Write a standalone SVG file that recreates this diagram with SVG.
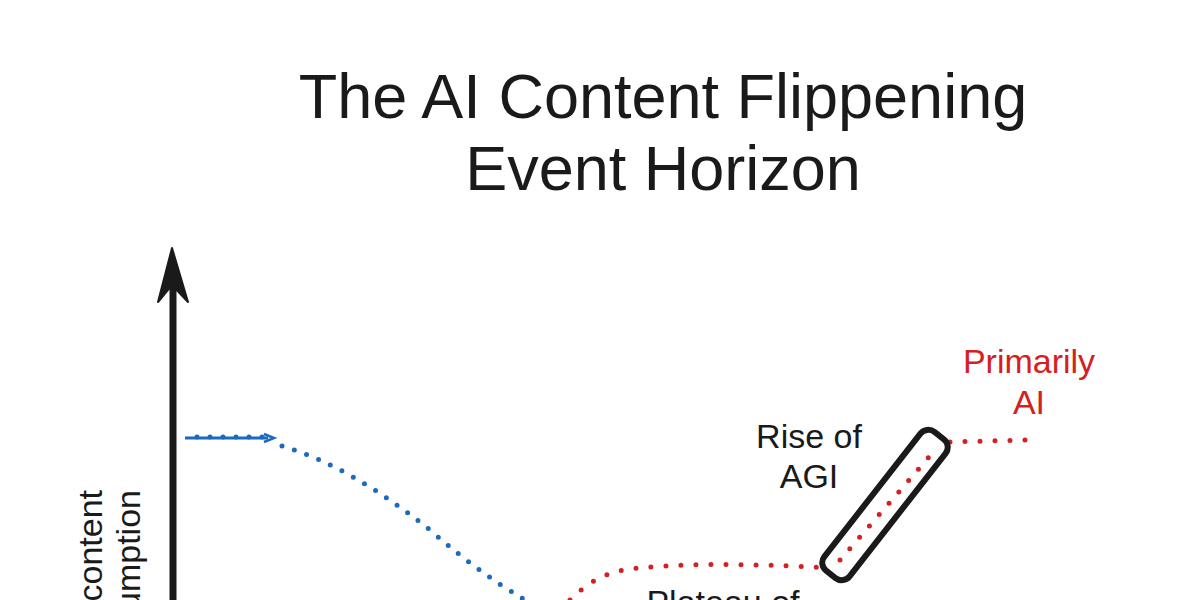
<svg xmlns="http://www.w3.org/2000/svg" width="1200" height="600" viewBox="0 0 1200 600">
<style>
text{font-family:"Liberation Sans",Arial,sans-serif;fill:#1a1a1a}
.t{font-size:63px;text-anchor:middle}
.l{font-size:34px;text-anchor:middle}
.r{fill:#d42020}
.bd{fill:none;stroke:#1a6bbf;stroke-width:5;stroke-linecap:round;stroke-dasharray:0 13}
.rd{fill:none;stroke:#d42020;stroke-width:5;stroke-linecap:round;stroke-dasharray:0 15}
</style>
<rect width="1200" height="600" fill="#fff"/>
<g id="title"><text class="t" x="663" y="118">The AI Content Flippening</text><text class="t" x="663" y="190">Event Horizon</text></g>
<g id="axis">
<line x1="173" y1="265" x2="173" y2="600" stroke="#1a1a1a" stroke-width="7"/>
<path d="M172 248 L158 302 L172 285 L188 302 Z" fill="#1a1a1a" stroke="#1a1a1a" stroke-width="2" stroke-linejoin="round"/>
<text class="l" x="102" y="490" style="text-anchor:end" transform="rotate(-90 102 490)">content</text>
<text class="l" x="140" y="490" style="text-anchor:end" transform="rotate(-90 140 490)">consumption</text>
</g>
<g id="connectors">
<line x1="185" y1="438" x2="268" y2="438" stroke="#1a6bbf" stroke-width="3"/>
<path d="M264 434 L274 438 L264 442" fill="none" stroke="#1a6bbf" stroke-width="2.5"/>
<path class="bd" d="M197 437 H270"/>
<path class="bd" d="M282 446 C330 460 380 490 430 530 C470 565 500 585 525 600"/>
<path class="rd" d="M570 600 C590 580 610 570 640 568 C700 562 780 565 830 568"/>
<path class="rd" d="M840 560 L935 450"/>
<path class="rd" d="M950 442 L1025 440"/>
</g>
<g id="agi">
<rect x="797" y="489" width="176" height="32" rx="10" transform="rotate(-52 885 505)" fill="none" stroke="#1a1a1a" stroke-width="6"/>
<text class="l" x="809" y="448">Rise of</text><text class="l" x="809" y="488">AGI</text>
</g>
<g id="primarily"><text class="l r" x="1029" y="373">Primarily</text><text class="l r" x="1029" y="414">AI</text></g>
<g id="plateau"><text class="l" x="723" y="614">Plateau of</text></g>
</svg>
